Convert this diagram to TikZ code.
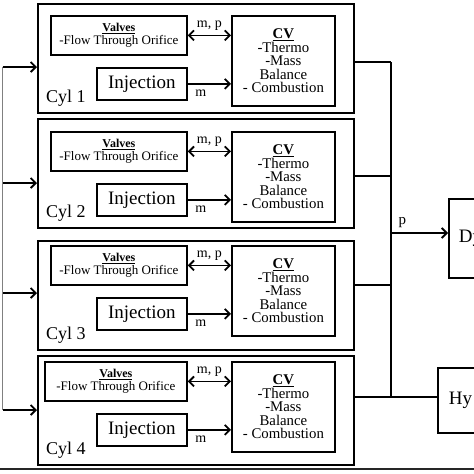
\documentclass[tikz,border=0pt]{standalone}
\usepackage{fontspec}
\setmainfont{Liberation Serif}
\usetikzlibrary{arrows.meta}

\begin{document}
\begin{tikzpicture}[x=1pt,y=-1pt,
    line/.style={line width=1.8pt},
    blk/.style={draw,line width=1.8pt,inner sep=0pt,anchor=north west},
    >={Straight Barb[length=5pt,width=10pt,line width=1.8pt]}]
    \useasboundingbox (0,0) rectangle (474,474);
    \clip (0,0) rectangle (474,474);
    \foreach \i/\top/\in/\vx/\bus/\feed in {1/3/15/50/62/67, 2/118/131/50/176/183, 3/240/245/50/285/293, 4/355/361/44/397/410} {
        \node[blk,minimum width=316,minimum height=109] (cyl\i) at (37,\top) {};
        \node[anchor=base west,inner sep=0pt,font=\fontsize{18}{20}\selectfont] (lbl\i) at ([xshift=9pt,yshift=11pt]cyl\i.south west) {Cyl \i};
        \node[blk,minimum width={186-\vx},minimum height=39,align=center,font=\fontsize{13}{12.5}\selectfont] (valves\i) at (\vx,\in)
            {{\fontsize{12}{12.5}\selectfont\underline{\textbf{Valves}}}\\-Flow Through Orifice};
        \node[blk,minimum width=90,minimum height=32,font=\fontsize{19}{21}\selectfont] (inj\i) at (96,\in+52) {Injection};
        \node[blk,minimum width=103,minimum height=90,align=center,font=\fontsize{14.8}{13.6}\selectfont] (cv\i) at (231,\in)
            {\underline{\textbf{CV}}\\-Thermo\\-Mass\\Balance\\- Combustion};
        \draw[line,<->] (valves\i.east) -- (valves\i.east -| cv\i.west)
            node[midway,above=1pt,font=\fontsize{14}{16}\selectfont] {m, p};
        \draw[line,->] (inj\i.east) -- (inj\i.east -| cv\i.west)
            node[pos=0.3,below=2pt,font=\fontsize{14}{16}\selectfont] {m};
        \coordinate (tap\i) at (cyl\i.east |- 0,\bus);
        \coordinate (bus\i) at (391,\bus);
        \coordinate (feed\i) at (2.5,\feed);
        \draw[line] (tap\i) -- (bus\i);
        \draw[line,->] (feed\i) -- (cyl\i.west |- feed\i);
    }
    \draw[line,gray] (feed1) -- (feed4);
    \draw[line] (bus1) -- (bus4);
    \node[blk,minimum height=79,text width=60,align=left,inner xsep=10pt,font=\fontsize{19}{21}\selectfont] (dyno) at (448,198) {Dy};
    \node[blk,minimum height=65,text width=60,align=left,inner xsep=11pt,font=\fontsize{19}{21}\selectfont] (hyd) at (437,367) {Hy};
    \coordinate (busp) at (391,233);
    \draw[line,->] (busp) -- (busp -| dyno.west)
        node[pos=0.2,above=1pt,font=\fontsize{15}{17}\selectfont] {p};
    \draw[line] (bus4) -- (hyd.west |- bus4);
    \draw[line width=2.2pt,black!85] (0,469) -- (474,469);
\end{tikzpicture}
\end{document}
